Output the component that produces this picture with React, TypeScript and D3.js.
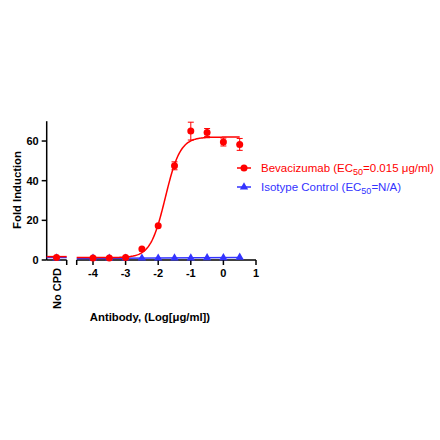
import React from "react";
import * as d3 from "d3";

const logDoses = [-4, -3.5, -3, -2.5, -2, -1.5, -1, -0.5, 0, 0.5];
const bevaMeans = [1.0, 1.0, 1.2, 5.6, 17.3, 47.5, 65.0, 64.3, 59.5, 58.3];
const bevaErr = [0.3, 0.3, 0.3, 0.5, 0.8, 2.0, 4.5, 2.0, 2.0, 3.0];
const isoMeans = [0.9, 0.9, 0.9, 0.9, 0.9, 1.0, 1.0, 1.1, 1.1, 1.3];
const noCpdBeva = 1.2;
const noCpdIso = 1.0;
// 4PL fit parameters for Bevacizumab
const fitBottom = 1.2;
const fitTop = 62;
const fitLogEC50 = -1.78;
const fitHill = 1.9;
const isoFitStart = 0.8;
const isoFitEnd = 1.3;
const yTicks = [0, 20, 40, 60];
const xTicks = [-4, -3, -2, -1, 0, 1];
const legendLabels = ["Bevacizumab", "Isotype Control"];
const legendEC50 = ["=0.015 μg/ml)", "=N/A)"];

const RED = "#ff0000";
const BLUE = "#3333ff";
const FONT = "'Liberation Sans', Arial, sans-serif";

export default function App() {
  const y = d3.scaleLinear().domain([0, 70]).range([260, 121.2]);
  const x = d3.scaleLinear().domain([-4.5, 1]).range([76.7, 256]);
  const noCpdX = 56.5;
  const leftSeg: [number, number] = [46.7, 66.7];

  const fit = (lx: number) =>
    fitBottom + (fitTop - fitBottom) / (1 + Math.pow(10, (fitLogEC50 - lx) * fitHill));
  const curvePts: [number, number][] = d3.range(-4.5, 0.5001, 0.02).map((lx) => [lx, fit(lx)]);
  const line = d3
    .line<[number, number]>()
    .x((d) => x(d[0]))
    .y((d) => y(d[1]));
  const isoLine: [number, number][] = [
    [-4.5, isoFitStart],
    [0.5, isoFitEnd],
  ];

  const tri = d3.symbol().type(d3.symbolTriangle).size(30)();

  return (
    <svg
      width={440}
      height={440}
      style={{ position: "absolute", left: 0, top: 0, background: "#fff" }}
      fontFamily={FONT}
    >
      {/* y axis */}
      <line x1={leftSeg[0]} x2={leftSeg[0]} y1={y(0)} y2={y(70)} stroke="#000" strokeWidth={1.5} />
      {yTicks.map((t) => (
        <g key={t}>
          <line x1={leftSeg[0] - 5} x2={leftSeg[0]} y1={y(t)} y2={y(t)} stroke="#000" strokeWidth={1.5} />
          <text x={leftSeg[0] - 8} y={y(t)} dy="0.35em" textAnchor="end" fontSize={11} fontWeight="bold">
            {t}
          </text>
        </g>
      ))}
      {/* x axis left segment */}
      <line x1={leftSeg[0]} x2={leftSeg[1]} y1={y(0)} y2={y(0)} stroke="#000" strokeWidth={1.5} />
      <line x1={leftSeg[1]} x2={leftSeg[1]} y1={y(0)} y2={y(0) + 5} stroke="#000" strokeWidth={1.5} />
      <text
        transform={`translate(${noCpdX + 4},${y(0) + 8}) rotate(-90)`}
        textAnchor="end"
        fontSize={11}
        fontWeight="bold"
      >
        No CPD
      </text>
      {/* x axis right segment */}
      <line x1={x(-4.5)} x2={x(1)} y1={y(0)} y2={y(0)} stroke="#000" strokeWidth={1.5} />
      <line x1={x(-4.5)} x2={x(-4.5)} y1={y(0)} y2={y(0) + 5} stroke="#000" strokeWidth={1.5} />
      {xTicks.map((t) => (
        <g key={t}>
          <line x1={x(t)} x2={x(t)} y1={y(0)} y2={y(0) + 5} stroke="#000" strokeWidth={1.5} />
          <text x={x(t)} y={y(0) + 17} textAnchor="middle" fontSize={11} fontWeight="bold">
            {t}
          </text>
        </g>
      ))}
      {/* axis titles */}
      <text
        transform={`translate(21,190) rotate(-90)`}
        textAnchor="middle"
        fontSize={11.3}
        fontWeight="bold"
      >
        Fold Induction
      </text>
      <text x={150} y={321} textAnchor="middle" fontSize={11.3} fontWeight="bold">
        Antibody, (Log[μg/ml])
      </text>

      {/* No CPD lines */}
      <line x1={leftSeg[0]} x2={leftSeg[1]} y1={y(noCpdIso) - 0.5} y2={y(noCpdIso) - 0.5} stroke={BLUE} strokeWidth={1.5} />
      <line x1={leftSeg[0]} x2={leftSeg[1]} y1={y(noCpdBeva) - 1} y2={y(noCpdBeva) - 1} stroke={RED} strokeWidth={1.5} />

      {/* Isotype */}
      <path d={line(isoLine) || ""} fill="none" stroke={BLUE} strokeWidth={1.5} />
      {logDoses.map((d, i) => (
        <path key={i} d={tri || ""} transform={`translate(${x(d)},${y(isoMeans[i])})`} fill={BLUE} />
      ))}
      <path d={tri || ""} transform={`translate(${noCpdX},${y(noCpdIso)})`} fill={BLUE} />

      {/* Bevacizumab */}
      <path d={line(curvePts) || ""} fill="none" stroke={RED} strokeWidth={1.5} />
      {logDoses.map((d, i) => {
        const cx = x(d);
        const top = y(bevaMeans[i] + bevaErr[i]);
        const bot = y(bevaMeans[i] - bevaErr[i]);
        return (
          <g key={i}>
            {bevaErr[i] > 1 && (
              <g stroke={RED} strokeWidth={1}>
                <line x1={cx} x2={cx} y1={top} y2={bot} />
                <line x1={cx - 3} x2={cx + 3} y1={top} y2={top} />
                <line x1={cx - 3} x2={cx + 3} y1={bot} y2={bot} />
              </g>
            )}
            <circle cx={cx} cy={y(bevaMeans[i])} r={3.5} fill={RED} />
          </g>
        );
      })}
      <circle cx={noCpdX} cy={y(noCpdBeva)} r={3.5} fill={RED} />

      {/* Legend */}
      {[0, 1].map((i) => {
        const ly = 168 + i * 19;
        const col = i === 0 ? RED : BLUE;
        return (
          <g key={i}>
            <line x1={237} x2={251} y1={ly} y2={ly} stroke={col} strokeWidth={1.5} />
            {i === 0 ? (
              <circle cx={244} cy={ly} r={3.5} fill={col} />
            ) : (
              <path d={tri || ""} transform={`translate(244,${ly})`} fill={col} />
            )}
            <text x={261} y={ly} dy="0.35em" fontSize={11.5} fill={col}>
              {legendLabels[i]} (EC
              <tspan fontSize={9} dy="3">50</tspan>
              <tspan dy="-3">{legendEC50[i]}</tspan>
            </text>
          </g>
        );
      })}
    </svg>
  );
}
